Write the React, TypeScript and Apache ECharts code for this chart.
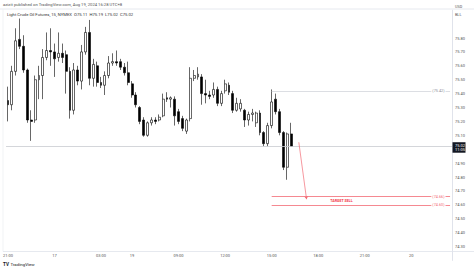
import React, { useEffect, useRef } from 'react';
import * as echarts from 'echarts';

const FONT = 'Roboto, "Noto Sans", sans-serif';

// 15-minute bars (index 0 = Aug 16 21:00, session break after Aug 17 04:45, resumes Aug 19 06:00)
const openP = [
  75.35, 75.32, 75.56, 75.79, 75.74, 75.57, 75.21, 75.21, 75.50, 75.53,
  75.66, 75.71, 75.70, 75.66, 75.69, 75.68, 75.56, 75.28, 75.57, 75.49,
  75.70, 75.84, 75.51, 75.60, 75.48, 75.46, 75.53, 75.62, 75.63, 75.63,
  75.59, 75.55, 75.47, 75.39, 75.30, 75.21, 75.10, 75.19, 75.21, 75.21,
  75.24, 75.37, 75.36, 75.36, 75.27, 75.22, 75.13, 75.22, 75.51, 75.52,
  75.52, 75.40, 75.39, 75.39, 75.43, 75.33, 75.42, 75.46, 75.40, 75.28,
  75.29, 75.28, 75.21, 75.25, 75.19, 75.26, 75.12, 75.04, 75.17, 75.36,
  75.27, 75.12, 74.87, 75.11,
];
const closeP = [
  75.32, 75.56, 75.78, 75.74, 75.57, 75.21, 75.20, 75.50, 75.53, 75.66,
  75.71, 75.70, 75.65, 75.69, 75.66, 75.56, 75.28, 75.57, 75.49, 75.70,
  75.84, 75.51, 75.61, 75.48, 75.46, 75.53, 75.62, 75.63, 75.62, 75.59,
  75.55, 75.48, 75.39, 75.32, 75.20, 75.10, 75.19, 75.21, 75.20, 75.23,
  75.36, 75.36, 75.37, 75.24, 75.20, 75.15, 75.21, 75.51, 75.53, 75.54,
  75.40, 75.39, 75.38, 75.43, 75.33, 75.40, 75.47, 75.41, 75.28, 75.33,
  75.33, 75.21, 75.25, 75.26, 75.26, 75.12, 75.04, 75.17, 75.34, 75.27,
  75.12, 74.87, 75.11, 75.02,
];
const lowP = [
  75.20, 75.28, 75.53, 75.72, 75.55, 75.19, 75.06, 75.19, 75.36, 75.36,
  75.64, 75.60, 75.52, 75.63, 75.62, 75.40, 75.22, 75.25, 75.46, 75.43,
  75.68, 75.46, 75.45, 75.45, 75.44, 75.39, 75.51, 75.60, 75.60, 75.57,
  75.53, 75.46, 75.37, 75.30, 75.18, 75.09, 75.09, 75.17, 75.18, 75.20,
  75.23, 75.34, 75.30, 75.17, 75.18, 75.13, 75.11, 75.20, 75.49, 75.50,
  75.32, 75.33, 75.36, 75.37, 75.31, 75.31, 75.40, 75.39, 75.26, 75.27,
  75.27, 75.16, 75.17, 75.20, 75.16, 75.10, 75.02, 75.02, 75.15, 75.25,
  75.10, 74.85, 74.78, 75.02,
];
const highP = [
  75.45, 75.60, 75.87, 75.94, 75.82, 75.58, 75.28, 75.53, 75.60, 75.72,
  75.84, 75.87, 75.76, 75.84, 75.76, 75.71, 75.59, 75.62, 75.60, 75.75,
  75.88, 75.93, 75.65, 75.63, 75.52, 75.56, 75.67, 75.69, 75.71, 75.65,
  75.62, 75.63, 75.49, 75.41, 75.31, 75.23, 75.20, 75.23, 75.23, 75.25,
  75.40, 75.41, 75.38, 75.38, 75.29, 75.24, 75.22, 75.59, 75.57, 75.59,
  75.54, 75.50, 75.42, 75.48, 75.45, 75.42, 75.50, 75.48, 75.42, 75.37,
  75.36, 75.29, 75.27, 75.29, 75.27, 75.28, 75.13, 75.19, 75.43, 75.40,
  75.29, 75.13, 75.12, 75.19,
];

const TOTAL_SLOTS = 115;
const tickIdx = [0, 12, 24, 32, 44, 56, 68, 80, 92, 104];
const tickText = ['21:00', '17', '03:00', '19', '09:00', '12:00', '15:00', '18:00', '21:00', '20'];

const currentPrice = 75.02;
const resistance = 75.42;
const target1 = 74.66;
const target2 = 74.60;
const levelStartIdx = 68;

const cats: string[] = [];
for (let i = 0; i < TOTAL_SLOTS; i++) {
  let day: number, mins: number;
  if (i < 32) {
    mins = 21 * 60 + i * 15;
    day = 16 + Math.floor(mins / 1440);
    mins = mins % 1440;
  } else {
    mins = 6 * 60 + (i - 32) * 15;
    day = 19 + Math.floor(mins / 1440);
    mins = mins % 1440;
  }
  const hh = String(Math.floor(mins / 60)).padStart(2, '0');
  const mm = String(mins % 60).padStart(2, '0');
  cats.push(`Aug ${day} ${hh}:${mm}`);
}

const RED = '#f26b75';
const GREY_LINE = '#d3d6dc';

export default function App() {
  const ref = useRef<HTMLDivElement>(null);
  useEffect(() => {
    const chart = echarts.init(ref.current!, undefined, { renderer: 'svg' });
    const candles = openP.map((o, i) => [o, closeP[i], lowP[i], highP[i]]);
    const lastIdx = TOTAL_SLOTS - 1;
    const seg = (v: number, color: string) => [
      { coord: [cats[levelStartIdx], v], lineStyle: { color, width: 0.8, type: 'solid' } },
      { coord: [cats[lastIdx], v] },
    ];
    chart.setOption({
      animation: false,
      backgroundColor: '#ffffff',
      textStyle: { fontFamily: FONT },
      grid: { left: 3, right: 22, top: 10.2, bottom: 12.6, containLabel: false },
      xAxis: {
        type: 'category',
        data: cats,
        boundaryGap: true,
        offset: -8.9,
        axisLine: { show: false },
        axisTick: { show: false },
        splitLine: { show: false },
        axisLabel: {
          interval: (idx: number) => tickIdx.includes(idx),
          formatter: (_v: string, idx: number) => {
            const k = tickIdx.indexOf(idx);
            return k >= 0 ? tickText[k] : '';
          },
          fontSize: 4,
          color: '#555',
          margin: 2,
          fontFamily: FONT,
        },
      },
      yAxis: {
        type: 'value',
        position: 'right',
        min: 74.2,
        max: 76.0,
        interval: 0.1,
        axisLine: { show: true, lineStyle: { color: '#e0e3eb', width: 1 } },
        axisTick: { show: false },
        splitLine: { show: false },
        axisLabel: {
          fontSize: 4,
          color: '#555',
          margin: 3,
          fontFamily: FONT,
          formatter: (v: number) =>
            v < 74.25 || v > 75.85 || Math.abs(v - 75) < 0.01 ? '' : v.toFixed(2),
        },
      },
      series: [
        {
          type: 'candlestick',
          data: candles,
          barWidth: 2.4,
          itemStyle: {
            color: '#ffffff',
            color0: '#000000',
            borderColor: '#000000',
            borderColor0: '#000000',
            borderWidth: 0.6,
          },
          markLine: {
            silent: true,
            symbol: ['none', 'none'],
            label: { show: false },
            data: [
              { yAxis: currentPrice, lineStyle: { color: '#c9cbd0', width: 0.8, type: 'solid' } },
              seg(resistance, GREY_LINE),
              seg(target1, RED),
              seg(target2, RED),
              [
                { coord: [cats[75], 75.05], symbol: 'none', lineStyle: { color: RED, width: 0.7, type: 'solid' } },
                { coord: [cats[77], 74.64], symbol: 'arrow', symbolSize: 3 },
              ],
            ],
          },
        },
      ],
    });

    const px = (i: number, v: number) => chart.convertToPixel({ seriesIndex: 0 }, [cats[i], v]) as number[];
    const pCur = px(0, currentPrice);
    const pRes = px(111, resistance);
    const pT1 = px(111, target1);
    const pT2 = px(111, target2);
    const pTS = px(86, (target1 + target2) / 2);

    const lvlLabel = (p: number[], text: string, color: string) => ({
      type: 'text',
      x: p[0],
      y: p[1],
      z: 50,
      style: {
        text,
        fill: color,
        fontSize: 3.8,
        fontFamily: FONT,
        align: 'center',
        verticalAlign: 'middle',
        backgroundColor: '#ffffff',
        padding: [0, 1],
      },
    });

    chart.setOption({
      graphic: [
        { type: 'line', shape: { x1: 0, y1: 9, x2: 474, y2: 9 }, style: { stroke: '#e0e3eb', lineWidth: 0.8 } },
        { type: 'line', shape: { x1: 3, y1: 9, x2: 3, y2: 251.5 }, style: { stroke: '#eef0f3', lineWidth: 0.8 } },
        { type: 'line', shape: { x1: 3, y1: 251.5, x2: 474, y2: 251.5 }, style: { stroke: '#e0e3eb', lineWidth: 0.8 } },
        {
          type: 'text', x: 3, y: 4.5,
          style: { text: 'azizit published on TradingView.com, Aug 19, 2024 16:28 UTC+8', fill: '#555', fontSize: 4.2, fontFamily: FONT, verticalAlign: 'middle' },
        },
        {
          type: 'text', x: 7, y: 14.5,
          style: { text: 'Light Crude Oil Futures, 15, NYMEX  O75.11  H75.19  L75.02  C75.02', fill: '#333', fontSize: 4.2, fontFamily: FONT, verticalAlign: 'middle' },
        },
        { type: 'text', x: 455, y: 6, style: { text: 'USD', fill: '#555', fontSize: 3.8, fontFamily: FONT, verticalAlign: 'middle' } },
        { type: 'text', x: 455, y: 14.3, style: { text: 'BLL', fill: '#555', fontSize: 3.8, fontFamily: FONT, verticalAlign: 'middle' } },
        {
          type: 'rect', z: 60,
          shape: { x: 452.5, y: pCur[1] - 4.2, width: 13, height: 10.5 },
          style: { fill: '#131722' },
        },
        {
          type: 'text', z: 61, x: 455, y: pCur[1] - 1.3,
          style: { text: currentPrice.toFixed(2), fill: '#ffffff', fontSize: 4, fontFamily: FONT, verticalAlign: 'middle' },
        },
        {
          type: 'text', z: 61, x: 455, y: pCur[1] + 3.3,
          style: { text: '11:05', fill: '#ffffff', fontSize: 4, fontFamily: FONT, verticalAlign: 'middle' },
        },
        lvlLabel(pRes, `(${resistance.toFixed(2)})`, '#8a8e97'),
        lvlLabel(pT1, `(${target1.toFixed(2)})`, RED),
        lvlLabel(pT2, `(${target2.toFixed(2)})`, RED),
        {
          type: 'text', z: 50, x: pTS[0], y: pTS[1] + 0.8,
          style: { text: 'TARGET SELL', fill: '#f23645', fontSize: 3.6, fontWeight: 'bold', fontFamily: FONT, align: 'center', verticalAlign: 'middle' },
        },
        {
          type: 'text', x: 3, y: 264.5,
          style: { text: 'TV', fill: '#131722', fontSize: 4.6, fontWeight: 'bold', fontFamily: FONT, verticalAlign: 'middle' },
        },
        {
          type: 'text', x: 10.5, y: 264.5,
          style: { text: 'TradingView', fill: '#131722', fontSize: 4.4, fontFamily: FONT, verticalAlign: 'middle' },
        },
      ],
    });

    return () => chart.dispose();
  }, []);
  return <div ref={ref} style={{ position: 'fixed', left: 0, top: 0, width: 474, height: 273 }} />;
}
